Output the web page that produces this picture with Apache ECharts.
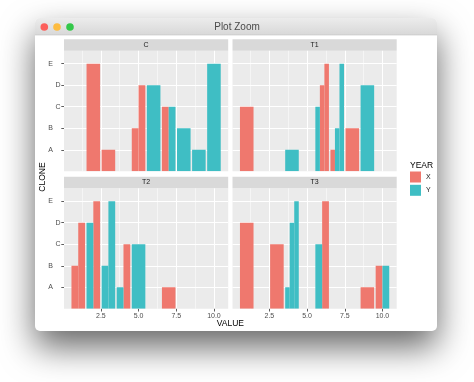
<!DOCTYPE html>
<html><head><meta charset="utf-8">
<script src="https://cdn.jsdelivr.net/npm/echarts@6/dist/echarts.min.js"></script>
<style>html,body{margin:0;padding:0;background:#fff}#c{width:474px;height:382px}</style>
</head><body><div id="c"></div>
<script>
// ---- data ----
const categories = ['A', 'B', 'C', 'D', 'E'];
const panelNames = ['C', 'T1', 'T2', 'T3'];
const yearLevels = ['X', 'Y'];
const yearColors = ['#EF786E', '#3FBEC4'];
const xTickValues = [2.5, 5, 7.5, 10];
const xMinorValues = [1.25, 3.75, 6.25, 8.75];

const valueC = [2, 3, 5, 5, 6, 7, 7, 8, 9, 10];
const cloneC = ['E', 'A', 'B', 'D', 'D', 'C', 'C', 'B', 'A', 'E'];
const yearC  = ['X', 'X', 'X', 'X', 'Y', 'X', 'Y', 'Y', 'Y', 'Y'];

const valueT1 = [1, 4, 6, 6, 6, 7, 7, 7, 8, 9];
const cloneT1 = ['C', 'A', 'C', 'D', 'E', 'A', 'B', 'E', 'B', 'D'];
const yearT1  = ['X', 'Y', 'Y', 'X', 'X', 'X', 'Y', 'Y', 'X', 'Y'];

const valueT2 = [1, 1, 2, 2, 3, 3, 4, 4, 5, 7];
const cloneT2 = ['B', 'D', 'D', 'E', 'B', 'E', 'A', 'C', 'C', 'A'];
const yearT2  = ['X', 'X', 'Y', 'X', 'Y', 'Y', 'Y', 'X', 'Y', 'X'];

const valueT3 = [1, 3, 4, 4, 4, 6, 6, 9, 10, 10];
const cloneT3 = ['D', 'C', 'A', 'D', 'E', 'C', 'E', 'A', 'B', 'B'];
const yearT3  = ['X', 'X', 'Y', 'Y', 'Y', 'Y', 'X', 'X', 'X', 'Y'];

const panelData = [
  [valueC, cloneC, yearC],
  [valueT1, cloneT1, yearT1],
  [valueT2, cloneT2, yearT2],
  [valueT3, cloneT3, yearT3]
];

// ---- layout ----
const colLeft = [64, 232.5];
const rowTop = [50.8, 188.3];
const PW = 164.2, PH = 120.5, STRIP = 11.6;
const FONT = '"Liberation Sans", Arial, Helvetica, sans-serif';

// dodge like ggplot: bars sharing an x value split 0.9 width, ordered by clone then year
function dodge(vals, clones, yrs) {
  const rows = vals.map((v, k) => ({v, c: categories.indexOf(clones[k]) + 1, y: yearLevels.indexOf(yrs[k])}));
  const groups = {};
  rows.forEach(r => { (groups[r.v] = groups[r.v] || []).push(r); });
  Object.values(groups).forEach(g => {
    g.sort((a, b) => a.c - b.c || a.y - b.y);
    g.forEach((r, i) => { r.i = i; r.n = g.length; });
  });
  return rows;
}

function renderBar(params, api) {
  const x = api.value(0), lvl = api.value(1), i = api.value(2), n = api.value(3);
  const w = 0.9 / n;
  const x0 = x - 0.45 + i * w;
  const p0 = api.coord([x0, lvl]);
  const p1 = api.coord([x0 + w, 0]);
  return {type: 'rect', shape: {x: p0[0], y: p0[1], width: p1[0] - p0[0], height: p1[1] - p0[1]},
          style: {fill: api.visual('color')}};
}

const grids = [], xAxes = [], yAxes = [], series = [], graphics = [];

// window chrome
graphics.push({type: 'rect', z: -10, shape: {x: 35, y: 18, width: 402, height: 313, r: 5},
  style: {fill: '#fff', shadowBlur: 34, shadowOffsetY: 16, shadowColor: 'rgba(0,0,0,0.6)'}});
graphics.push({type: 'rect', z: -9, shape: {x: 35, y: 18, width: 402, height: 17, r: [5, 5, 0, 0]},
  style: {fill: new echarts.graphic.LinearGradient(0, 0, 0, 1, [{offset: 0, color: '#ECECEC'}, {offset: 1, color: '#D8D8D8'}])}});
graphics.push({type: 'line', z: -9, shape: {x1: 35, y1: 35, x2: 437, y2: 35}, style: {stroke: '#C4C4C4', lineWidth: 0.6}});
[[44.3, '#FC605C'], [57, '#FDBC40'], [70, '#34C84A']].forEach(([cx, col]) => {
  graphics.push({type: 'circle', z: -8, shape: {cx, cy: 27, r: 3.8}, style: {fill: col}});
});
graphics.push({type: 'text', z: -8, x: 237, y: 27, style: {text: 'Plot Zoom', fill: '#4A4A4A', font: '10px ' + FONT, align: 'center', verticalAlign: 'middle'}});

panelNames.forEach((name, p) => {
  const col = p % 2, row = Math.floor(p / 2);
  const left = colLeft[col], top = rowTop[row];
  grids.push({left, top, width: PW, height: PH, show: true, backgroundColor: '#EBEBEB', borderWidth: 0, containLabel: false});
  const bottomRow = row === 1, leftCol = col === 0;
  xAxes.push({gridIndex: p, type: 'value', min: 0.055, max: 10.945,
    axisLine: {show: false},
    axisTick: {show: bottomRow, customValues: xTickValues, length: 2.7, lineStyle: {color: '#333', width: 0.8}},
    axisLabel: {show: bottomRow, customValues: xTickValues, formatter: v => v.toFixed(1), fontSize: 7, color: '#4D4D4D', margin: 3.8, fontFamily: FONT},
    splitLine: {show: true, lineStyle: {color: '#fff', width: 1}}
  });
  xAxes.push({gridIndex: p, type: 'value', min: 0.055, max: 10.945, z: 0,
    axisLine: {show: false},
    axisTick: {show: false, customValues: xMinorValues},
    axisLabel: {show: false, customValues: xMinorValues},
    splitLine: {show: true, lineStyle: {color: '#fff', width: 0.5}}
  });
  yAxes.push({gridIndex: p, type: 'value', min: 0, max: 5.6,
    axisLine: {show: false},
    axisTick: {show: leftCol, customValues: [1, 2, 3, 4, 5], length: 2.7, lineStyle: {color: '#333', width: 0.8}},
    axisLabel: {show: leftCol, customValues: [1, 2, 3, 4, 5], margin: 3.5, fontSize: 7, color: '#4D4D4D', fontFamily: FONT,
      formatter: v => { const c = categories[v - 1]; return (c === 'C' || c === 'D') ? '{n|' + c + '}' : '{w|' + c + '}'; },
      rich: {n: {fontSize: 7, color: '#4D4D4D', fontFamily: FONT}, w: {fontSize: 7, color: '#4D4D4D', fontFamily: FONT, padding: [0, 7.5, 0, 0]}}},
    splitLine: {show: true, lineStyle: {color: '#fff', width: 1}}
  });
  const [vals, clones, yrs] = panelData[p];
  const rows = dodge(vals, clones, yrs);
  yearLevels.forEach((yr, yi) => {
    series.push({type: 'custom', name: yr, xAxisIndex: p * 2, yAxisIndex: p,
      itemStyle: {color: yearColors[yi]}, renderItem: renderBar, clip: true,
      encode: {x: 0, y: 1},
      data: rows.filter(r => r.y === yi).map(r => [r.v, r.c, r.i, r.n])});
  });
  // strip
  graphics.push({type: 'rect', shape: {x: left, y: top - STRIP, width: PW, height: STRIP}, style: {fill: '#D9D9D9'}});
  graphics.push({type: 'text', x: left + PW / 2, y: top - STRIP / 2, style: {text: name, fill: '#1A1A1A', font: '7px ' + FONT, align: 'center', verticalAlign: 'middle'}});
});

// axis titles & legend title
graphics.push({type: 'text', x: (colLeft[0] + colLeft[1] + PW) / 2, y: 324, style: {text: 'VALUE', fill: '#000', font: '8.5px ' + FONT, align: 'center', verticalAlign: 'middle'}});
graphics.push({type: 'text', x: 42.5, y: 177, rotation: Math.PI / 2, style: {text: 'CLONE', fill: '#000', font: '8.5px ' + FONT, align: 'center', verticalAlign: 'middle'}});
graphics.push({type: 'text', x: 410, y: 166, style: {text: 'YEAR', fill: '#000', font: '8.5px ' + FONT, align: 'left', verticalAlign: 'middle'}});

const chart = echarts.init(document.getElementById('c'), null, {renderer: 'canvas'});
chart.setOption({
  animation: false,
  backgroundColor: '#fff',
  grid: grids, xAxis: xAxes, yAxis: yAxes, series,
  legend: {data: yearLevels, orient: 'vertical', left: 410, top: 171.5, itemWidth: 11, itemHeight: 11, itemGap: 2.3,
    icon: 'rect', selectedMode: false, padding: 0, textStyle: {fontSize: 7, color: '#1A1A1A', fontFamily: FONT}},
  graphic: graphics
});
</script></body></html>
